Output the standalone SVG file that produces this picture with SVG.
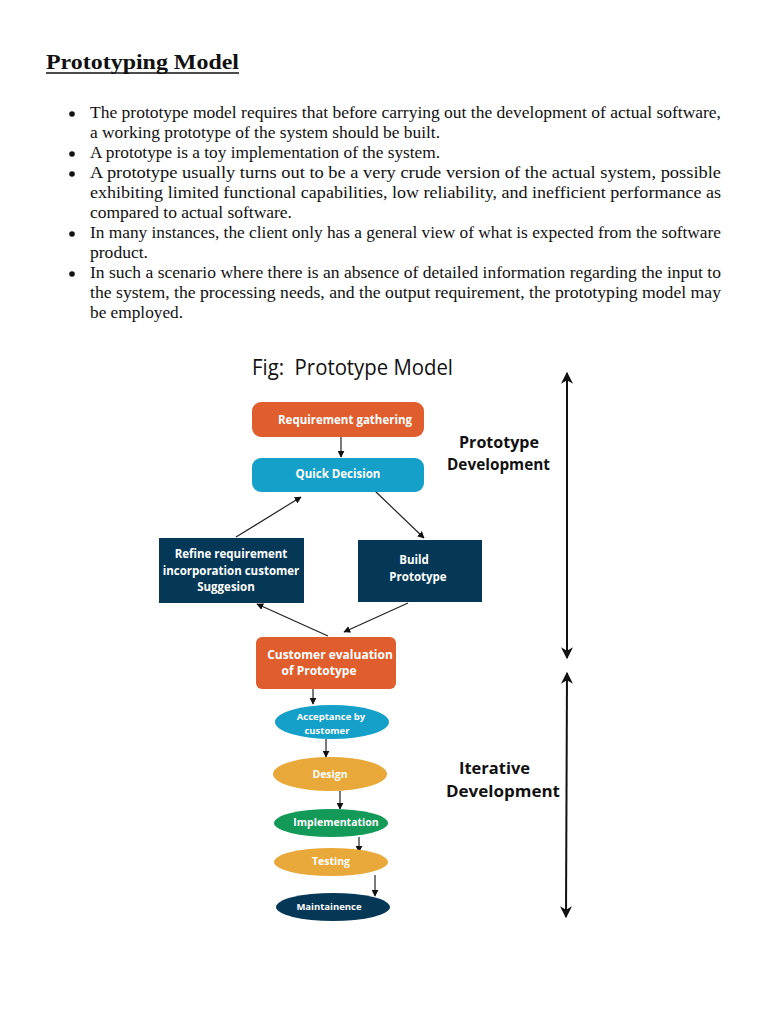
<svg xmlns="http://www.w3.org/2000/svg" width="768" height="1024" viewBox="0 0 768 1024">
<style>
.body{font-family:"Liberation Serif","DejaVu Serif",serif;font-size:16.5px;fill:#111}
.lbl{font-family:"Open Sans","Liberation Sans",sans-serif;font-weight:bold;fill:#fff;text-anchor:middle}
.side{font-family:"Open Sans","Liberation Sans",sans-serif;font-weight:bold;font-size:16.5px;fill:#111}
.c{stroke:#222;stroke-width:1.2;fill:none}
.big{stroke:#111;stroke-width:2;fill:none}
</style>
<defs>
<marker id="a" viewBox="0 0 10 10" refX="9" refY="5" markerWidth="7" markerHeight="7" markerUnits="userSpaceOnUse" orient="auto"><path d="M0,0 L10,5 L0,10 Z" fill="#111"/></marker>
<marker id="b" viewBox="0 0 10 10" refX="9" refY="5" markerWidth="16" markerHeight="12" markerUnits="userSpaceOnUse" orient="auto-start-reverse"><path d="M0,0 L10,5 L0,10 L3,5 Z" fill="#111"/></marker>
</defs>
<rect width="768" height="1024" fill="#fff"/>
<g id="heading">
<text x="46" y="69" font-family="Liberation Serif,serif" font-weight="bold" font-size="22" textLength="193" lengthAdjust="spacingAndGlyphs" fill="#111">Prototyping Model</text>
<line x1="46" y1="73" x2="239" y2="73" stroke="#111" stroke-width="1.3"/>
</g>
<g id="bullets">
<g fill="#111"><circle cx="72" cy="114" r="2.8"/><circle cx="72" cy="154" r="2.8"/><circle cx="72" cy="174" r="2.8"/><circle cx="72" cy="234" r="2.8"/><circle cx="72" cy="274" r="2.8"/></g>
<text class="body" x="90" y="118" textLength="631" lengthAdjust="spacingAndGlyphs">The prototype model requires that before carrying out the development of actual software,</text>
<text class="body" x="90" y="138" textLength="350" lengthAdjust="spacingAndGlyphs">a working prototype of the system should be built.</text>
<text class="body" x="90" y="158" textLength="350" lengthAdjust="spacingAndGlyphs">A prototype is a toy implementation of the system.</text>
<text class="body" x="90" y="178" textLength="631" lengthAdjust="spacingAndGlyphs">A prototype usually turns out to be a very crude version of the actual system, possible</text>
<text class="body" x="90" y="198" textLength="631" lengthAdjust="spacingAndGlyphs">exhibiting limited functional capabilities, low reliability, and inefficient performance as</text>
<text class="body" x="90" y="218" textLength="202" lengthAdjust="spacingAndGlyphs">compared to actual software.</text>
<text class="body" x="90" y="238" textLength="631" lengthAdjust="spacingAndGlyphs">In many instances, the client only has a general view of what is expected from the software</text>
<text class="body" x="90" y="258" textLength="58" lengthAdjust="spacingAndGlyphs">product.</text>
<text class="body" x="90" y="278" textLength="631" lengthAdjust="spacingAndGlyphs">In such a scenario where there is an absence of detailed information regarding the input to</text>
<text class="body" x="90" y="298" textLength="631" lengthAdjust="spacingAndGlyphs">the system, the processing needs, and the output requirement, the prototyping model may</text>
<text class="body" x="90" y="318" textLength="93" lengthAdjust="spacingAndGlyphs">be employed.</text>
</g>
<g id="figtitle">
<text x="252" y="375" font-family="Open Sans,Liberation Sans,sans-serif" font-size="21" fill="#111" textLength="201" lengthAdjust="spacingAndGlyphs" xml:space="preserve">Fig:  Prototype Model</text>
</g>
<g id="connectors">
<line class="c" x1="341" y1="437" x2="341" y2="457" marker-end="url(#a)"/>
<line class="c" x1="236" y1="537" x2="301" y2="497" marker-end="url(#a)"/>
<line class="c" x1="375" y1="491" x2="424" y2="538" marker-end="url(#a)"/>
<line class="c" x1="408" y1="603" x2="344" y2="632" marker-end="url(#a)"/>
<line class="c" x1="328" y1="636" x2="257" y2="604" marker-end="url(#a)"/>
<line class="c" x1="313" y1="689" x2="313" y2="704" marker-end="url(#a)"/>
<line class="c" x1="326" y1="739" x2="326" y2="757" marker-end="url(#a)"/>
<line class="c" x1="340" y1="791" x2="340" y2="809" marker-end="url(#a)"/>
<line class="c" x1="359" y1="837" x2="359" y2="852" marker-end="url(#a)"/>
<line class="c" x1="375" y1="875" x2="375" y2="896" marker-end="url(#a)"/>
<line class="big" x1="567" y1="373" x2="567" y2="658" marker-start="url(#b)" marker-end="url(#b)"/>
<line class="big" x1="567" y1="673" x2="566" y2="917" marker-start="url(#b)" marker-end="url(#b)"/>
</g>
<g id="req">
<rect x="252" y="402" width="172" height="35" rx="9" fill="#e05e2e"/>
<text class="lbl" x="345" y="424" font-size="11.5">Requirement gathering</text>
</g>
<g id="quick">
<rect x="252" y="458" width="172" height="34" rx="9" fill="#14a0c9"/>
<text class="lbl" x="338" y="478" font-size="11.5">Quick Decision</text>
</g>
<g id="refine">
<rect x="159" y="538" width="145" height="65" fill="#053856"/>
<text class="lbl" x="231" y="558" font-size="11.5">Refine requirement</text>
<text class="lbl" x="231" y="575" font-size="11.5">incorporation customer</text>
<text class="lbl" x="226" y="591" font-size="11.5">Suggesion</text>
</g>
<g id="build">
<rect x="358" y="540" width="124" height="62" fill="#053856"/>
<text class="lbl" x="414" y="564" font-size="11.5">Build</text>
<text class="lbl" x="418" y="581" font-size="11.5">Prototype</text>
</g>
<g id="custeval">
<rect x="256" y="637" width="140" height="52" rx="6" fill="#e05e2e"/>
<text class="lbl" x="330" y="659" font-size="12">Customer evaluation</text>
<text class="lbl" x="319" y="675" font-size="12">of Prototype</text>
</g>
<g id="accept">
<ellipse cx="332" cy="722" rx="57" ry="17" fill="#14a0c9"/>
<text class="lbl" x="331" y="720" font-size="9.5">Acceptance by</text>
<text class="lbl" x="327" y="734" font-size="9.5">customer</text>
</g>
<g id="design">
<ellipse cx="330" cy="774" rx="57" ry="17" fill="#e8a93a"/>
<text class="lbl" x="330" y="778" font-size="10.5">Design</text>
</g>
<g id="impl">
<ellipse cx="331" cy="823" rx="57" ry="14" fill="#139a59"/>
<text class="lbl" x="336" y="826" font-size="10.5">Implementation</text>
</g>
<g id="testing">
<ellipse cx="331" cy="862" rx="57" ry="14" fill="#e8a93a"/>
<text class="lbl" x="331" y="865" font-size="10.5">Testing</text>
</g>
<g id="maint">
<ellipse cx="333" cy="907" rx="57" ry="14" fill="#053856"/>
<text class="lbl" x="329" y="910" font-size="9.5">Maintainence</text>
</g>
<g id="protodev">
<text class="side" x="459" y="448" textLength="80" lengthAdjust="spacingAndGlyphs">Prototype</text>
<text class="side" x="447" y="470" textLength="103" lengthAdjust="spacingAndGlyphs">Development</text>
</g>
<g id="iterdev">
<text class="side" x="459" y="774" font-size="18" textLength="71" lengthAdjust="spacingAndGlyphs">Iterative</text>
<text class="side" x="446" y="797" font-size="18" textLength="114" lengthAdjust="spacingAndGlyphs">Development</text>
</g>
</svg>
